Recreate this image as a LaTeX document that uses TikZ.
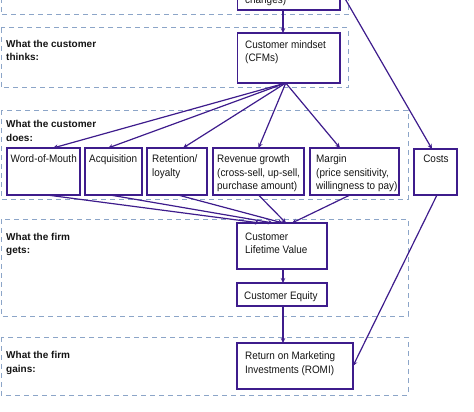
\documentclass[tikz,border=0pt]{standalone}
\usepackage{fontspec}
\setmainfont{Liberation Sans}
\newfontfamily\boxfont{Liberation Sans}[FakeStretch=0.92]
\usetikzlibrary{arrows.meta}
\definecolor{pur}{RGB}{62,28,140}
\definecolor{dashc}{RGB}{140,165,200}
\definecolor{ink}{RGB}{20,20,20}
\newcommand\lines[1]{\begin{tabular}[t]{@{}l@{}}#1\end{tabular}}
\begin{document}
\begin{tikzpicture}[x=1pt,y=-1pt,
  region/.style={draw=dashc, line width=1pt, dash pattern=on 5pt off 4pt},
  box/.style={draw=pur, line width=1.5pt, anchor=north west, inner sep=0pt, outer sep=0pt},
  txt/.style={anchor=base west, inner sep=0pt, text=ink, font=\boxfont\fontsize{10.8}{13.7}\selectfont},
  lbl/.style={anchor=base west, inner sep=0pt, text=ink, font=\bfseries\fontsize{10}{13.7}\selectfont},
  arr/.style={draw=pur, line width=1.2pt, -{Stealth[length=5pt,width=4.5pt]}},
]
\useasboundingbox (0,0) rectangle (474,412);
\clip (0,0) rectangle (474,412);
% regions
\draw[region] (1,-20) rectangle (348,15);
\draw[region] (1,28) rectangle (348,88);
\draw[region] (1,110) rectangle (408,199);
\draw[region] (1,219) rectangle (408,316);
\draw[region] (1,337) rectangle (408,395);
% left labels
\node[lbl] (l2) at (6,47.3) {\lines{What the customer\\thinks:}};
\node[lbl] (l3) at (6,127.7) {\lines{What the customer\\does:}};
\node[lbl] (l4) at (6,240) {\lines{What the firm\\gets:}};
\node[lbl] (l5) at (6,358.3) {\lines{What the firm\\gains:}};
% boxes
\node[box, minimum width=102.5pt, minimum height=40pt] (top) at (237.5,-30) {};
\node[txt] (topt) at (245,4) {changes)};
\node[box, minimum width=102.5pt, minimum height=50pt] (cfm) at (237.5,33) {};
\node[txt] (cfmt) at (245,48.3) {\lines{Customer mindset\\(CFMs)}};
\node[box, minimum width=73pt, minimum height=47pt] (wom) at (7,148) {};
\node[txt] (womt) at (10.5,162.3) {Word-of-Mouth};
\node[box, minimum width=57pt, minimum height=47pt] (acq) at (85,148) {};
\node[txt] (acqt) at (89,162.3) {Acquisition};
\node[box, minimum width=60pt, minimum height=47pt] (ret) at (147,148) {};
\node[txt] (rett) at (152,162.3) {\lines{Retention/\\loyalty}};
\node[box, minimum width=91pt, minimum height=47pt] (rev) at (213,148) {};
\node[txt] (revt) at (217,162.3) {\lines{Revenue growth\\(cross-sell, up-sell,\\purchase amount)}};
\node[box, minimum width=89pt, minimum height=47pt] (mar) at (310,148) {};
\node[txt] (mart) at (316,162.3) {\lines{Margin\\(price sensitivity,\\willingness to pay)}};
\node[box, minimum width=43pt, minimum height=46pt] (costs) at (414,149) {};
\node[txt, anchor=base] (costst) at (436,162.3) {Costs};
\node[box, minimum width=90pt, minimum height=46pt] (clv) at (237,223) {};
\node[txt] (clvt) at (245,240) {\lines{Customer\\Lifetime Value}};
\node[box, minimum width=90pt, minimum height=23pt] (ce) at (237,283) {};
\node[txt] (cet) at (244,299) {Customer Equity};
\node[box, minimum width=116pt, minimum height=46pt] (romi) at (237,343) {};
\node[txt] (romit) at (245,359.3) {\lines{Return on Marketing\\Investments (ROMI)}};
% connectors
\coordinate (spine) at (283,0);
\draw[arr] (top.south -| spine) -- (cfm.north -| spine);
\draw[arr] ([xshift=-3pt]cfm.south) -- ([xshift=9.5pt]wom.north);
\draw[arr] ([xshift=-3pt]cfm.south) -- ([xshift=-5.5pt]acq.north);
\draw[arr] ([xshift=-3pt]cfm.south) -- ([xshift=6pt]ret.north);
\draw[arr] ([xshift=-3pt]cfm.south) -- (rev.north);
\draw[arr] ([xshift=-3pt]cfm.south) -- ([xshift=-14.5pt]mar.north);
\draw[arr] (top.east) -- ([xshift=-3.5pt]costs.north);
\draw[arr] ([xshift=3.5pt]wom.south) -- ([xshift=-22pt]clv.north);
\draw[arr] ([xshift=-3.5pt]acq.south) -- ([xshift=-9pt]clv.north);
\draw[arr] ([xshift=1pt]ret.south) -- ([xshift=1pt]clv.north);
\draw[arr] (rev.south) -- ([xshift=4pt]clv.north);
\draw[arr] ([xshift=-4.5pt]mar.south) -- ([xshift=10pt]clv.north);
\draw[arr] (clv.south -| spine) -- (ce.north -| spine);
\draw[arr] (ce.south -| spine) -- (romi.north -| spine);
\draw[arr] ([xshift=1.5pt]costs.south) -- (romi.east);
\end{tikzpicture}
\end{document}
